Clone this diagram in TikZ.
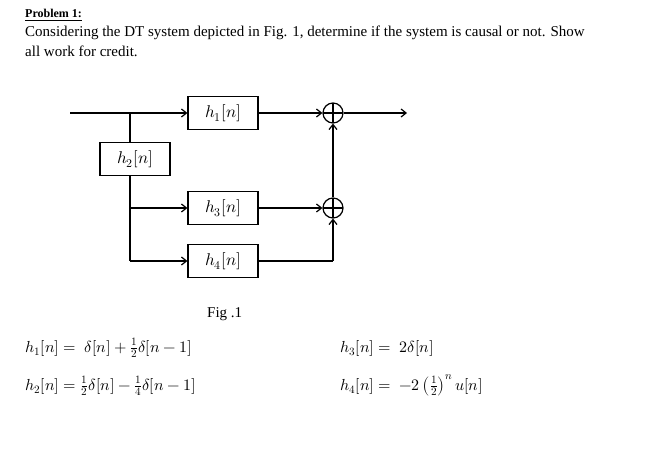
\documentclass[tikz,border=0pt]{standalone}
\usepackage{fontspec}
\usepackage{unicode-math}
\setmainfont{Liberation Serif}
\setmathfont{Latin Modern Math}
\usetikzlibrary{arrows.meta}
\begin{document}
\begin{tikzpicture}[x=1pt,y=-1pt,
  blk/.style={draw,line width=1.2pt,minimum width=70pt,minimum height=33pt,inner sep=0pt,font=\fontsize{17}{19}\selectfont},
  sum/.style={draw,line width=1.2pt,circle,minimum size=20pt,inner sep=0pt,path picture={\draw[line width=1.2pt] (path picture bounding box.north)--(path picture bounding box.south) (path picture bounding box.west)--(path picture bounding box.east);}},
  ln/.style={line width=1.2pt},
  ar/.style={line width=1.2pt,-{Straight Barb[length=5pt,width=8pt]}},
  tx/.style={anchor=base west,inner sep=0pt,font=\fontsize{15}{17}\selectfont},
  eq/.style={anchor=base west,inner sep=0pt,font=\fontsize{16}{18}\selectfont}]
\useasboundingbox (0,0) rectangle (650,470);
\node[tx,font=\fontsize{12}{14}\selectfont\bfseries] (p) at (25,18) {\underline{Problem 1:}};
\node[tx] (l1) at (25,37) {Considering the DT system depicted in Fig. 1, determine if the system is causal or not. Show};
\node[tx] (l2) at (25,57) {all work for credit.};
\node[blk] (h1) at (223,113) {$h_1[n]$};
\node[blk] (h2) at (135,159) {$h_2[n]$};
\node[blk] (h3) at (223,208) {$h_3[n]$};
\node[blk] (h4) at (223,261) {$h_4[n]$};
\node[sum] (s1) at (333,113) {};
\node[sum] (s2) at (333,208) {};
\coordinate (in) at (70,113);
\coordinate (out) at (407,113);
\coordinate (b1) at (130,113);
\coordinate (b2) at (130,208);
\coordinate (b3) at (130,261);
\coordinate (c4) at (333,261);
\draw[ar] (in) -- (h1.west);
\draw[ln] (b1) -- (b1 |- h2.north);
\draw[ln] (b1 |- h2.south) -- (b3);
\draw[ar] (b2) -- (h3.west);
\draw[ar] (b3) -- (h4.west);
\draw[ar] (h1.east) -- (s1.west);
\draw[ar] (h3.east) -- (s2.west);
\draw[ln] (h4.east) -- (c4);
\draw[ar] (c4) -- (s2.south);
\draw[ar] (s2.north) -- (s1.south);
\draw[ar] (s1.east) -- (out);
\node[tx] (fig) at (207,317) {Fig .1};
\node[eq] (e1) at (25,352) {$h_1[n] =\ \delta[n] + \frac{1}{2}\delta[n-1]$};
\node[eq] (e2) at (25,390) {$h_2[n] = \frac{1}{2}\delta[n] - \frac{1}{4}\delta[n-1]$};
\node[eq] (e3) at (340,352) {$h_3[n] =\ 2\delta[n]$};
\node[eq] (e4) at (340,390) {$h_4[n] =\ -2\left(\frac{1}{2}\right)^{n} u[n]$};
\end{tikzpicture}
\end{document}
